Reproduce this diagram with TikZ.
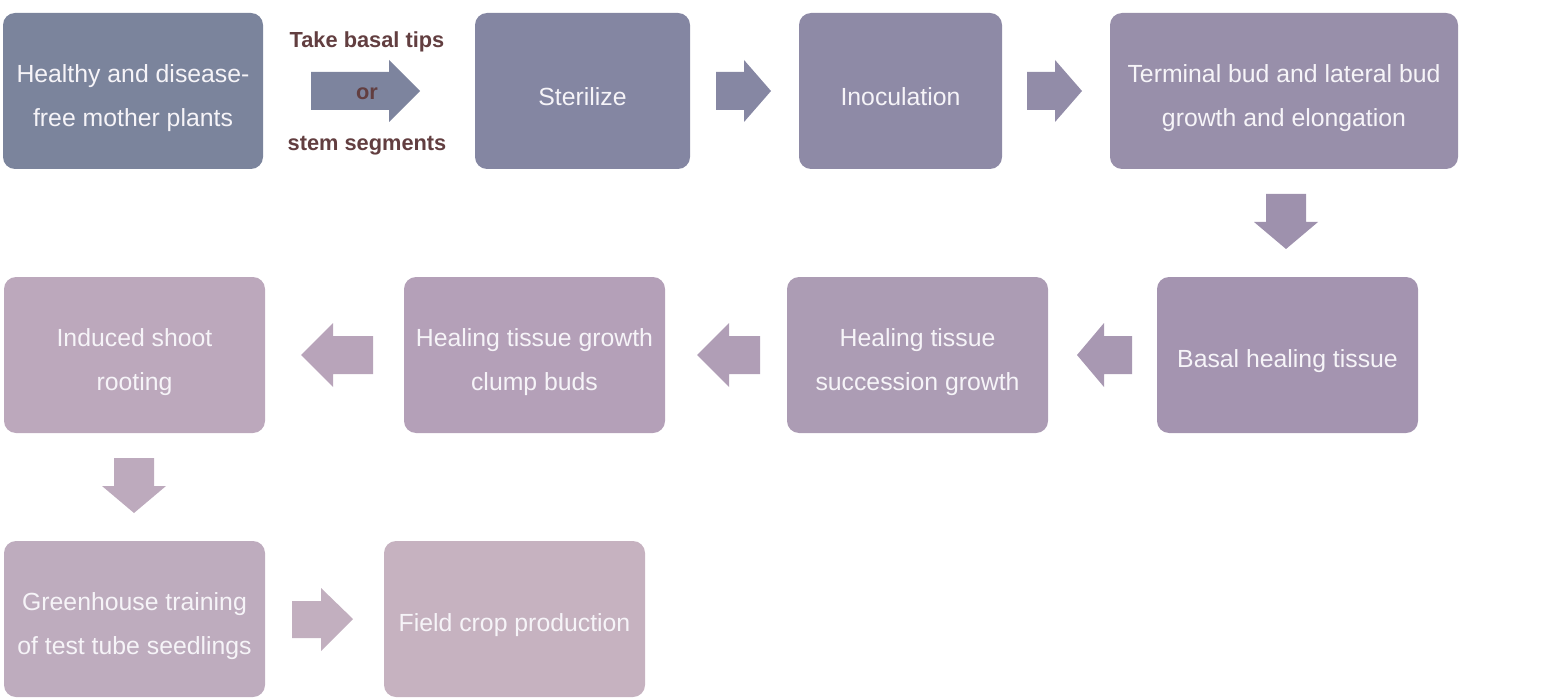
\documentclass[tikz,border=0pt]{standalone}
\usepackage{fontspec}
\setmainfont{Liberation Sans}
\definecolor{c1}{RGB}{123,132,156}
\definecolor{c2}{RGB}{132,134,162}
\definecolor{c3}{RGB}{142,138,166}
\definecolor{c4}{RGB}{152,143,170}
\definecolor{c5}{RGB}{164,148,176}
\definecolor{c6}{RGB}{172,156,180}
\definecolor{c7}{RGB}{180,160,184}
\definecolor{c8}{RGB}{188,168,188}
\definecolor{c9}{RGB}{190,172,190}
\definecolor{c10}{RGB}{198,178,192}
\definecolor{a1}{RGB}{125,132,158}
\definecolor{a2}{RGB}{134,135,163}
\definecolor{a3}{RGB}{146,140,168}
\definecolor{a4}{RGB}{158,145,173}
\definecolor{a5}{RGB}{168,152,178}
\definecolor{a6}{RGB}{176,158,182}
\definecolor{a7}{RGB}{184,164,186}
\definecolor{a8}{RGB}{189,170,189}
\definecolor{a9}{RGB}{194,175,191}
\definecolor{lbl}{RGB}{98,62,64}
\definecolor{txtc}{RGB}{246,244,248}
\tikzset{
  box/.style={rectangle, rounded corners=6pt, draw=none, inner sep=0pt, minimum width=#1},
  box/.default=130pt,
  boxtxt/.style={text=txtc, align=center, font=\fontsize{12.4}{22}\selectfont},
  steplbl/.style={text=lbl, font=\fontsize{10.9}{13}\selectfont\bfseries},
}
\begin{document}
\begin{tikzpicture}[x=0.5pt,y=-0.5pt]
\useasboundingbox (0,0) rectangle (1546,700);
% boxes
\node[box=130pt, minimum height=78pt, fill=c1] (b1) at (133,91) {};
\node[box=107.5pt, minimum height=78pt, fill=c2] (b2) at (582.5,91) {};
\node[box=101.5pt, minimum height=78pt, fill=c3] (b3) at (900.5,91) {};
\node[box=174pt, minimum height=78pt, fill=c4] (b4) at (1284,91) {};
\node[box=130.5pt, minimum height=78pt, fill=c5] (b5) at (1287.5,355) {};
\node[box=130.5pt, minimum height=78pt, fill=c6] (b6) at (917.5,355) {};
\node[box=130.5pt, minimum height=78pt, fill=c7] (b7) at (534.5,355) {};
\node[box=130.5pt, minimum height=78pt, fill=c8] (b8) at (134.5,355) {};
\node[box=130.5pt, minimum height=78pt, fill=c9] (b9) at (134.5,619) {};
\node[box=130.5pt, minimum height=78pt, fill=c10] (b10) at (514.5,619) {};
% texts
\node[boxtxt] (t1) at ([yshift=-3.5pt]b1.center) {Healthy and disease-\\free mother plants};
\node[boxtxt] (t2) at ([yshift=-3pt]b2.center) {Sterilize};
\node[boxtxt] (t3) at ([yshift=-3pt]b3.center) {Inoculation};
\node[boxtxt] (t4) at ([yshift=-3.5pt]b4.center) {Terminal bud and lateral bud\\growth and elongation};
\node[boxtxt] (t5) at ([yshift=-3pt]b5.center) {Basal healing tissue};
\node[boxtxt] (t6) at ([yshift=-3.5pt]b6.center) {Healing tissue\\succession growth};
\node[boxtxt] (t7) at ([yshift=-3.5pt]b7.center) {Healing tissue growth\\clump buds};
\node[boxtxt] (t8) at ([yshift=-3.5pt]b8.center) {Induced shoot\\rooting};
\node[boxtxt] (t9) at ([yshift=-3.5pt]b9.center) {Greenhouse training\\of test tube seedlings};
\node[boxtxt] (t10) at ([yshift=-3pt]b10.center) {Field crop production};
% block arrows
\fill[a1] (311,72) -- (389,72) -- (389,60) -- (420,91) -- (389,122) -- (389,110) -- (311,110) -- cycle;
\fill[a2] (716,72) -- (744,72) -- (744,60) -- (771,91) -- (744,122) -- (744,110) -- (716,110) -- cycle;
\fill[a3] (1027,72) -- (1055,72) -- (1055,60) -- (1082,91) -- (1055,122) -- (1055,110) -- (1027,110) -- cycle;
\fill[a4] (1266,194) -- (1306,194) -- (1306,222) -- (1318,222) -- (1286,249) -- (1254,222) -- (1266,222) -- cycle;
\fill[a5] (1132,336) -- (1104,336) -- (1104,323) -- (1077,355) -- (1104,387) -- (1104,374) -- (1132,374) -- cycle;
\fill[a6] (760,336) -- (729,336) -- (729,323) -- (697,355) -- (729,387) -- (729,374) -- (760,374) -- cycle;
\fill[a7] (373,336) -- (333,336) -- (333,323) -- (301,355) -- (333,387) -- (333,374) -- (373,374) -- cycle;
\fill[a8] (114,458) -- (154,458) -- (154,486) -- (166,486) -- (134,513) -- (102,486) -- (114,486) -- cycle;
\fill[a9] (292,601) -- (321,601) -- (321,588) -- (353,619) -- (321,651) -- (321,638) -- (292,638) -- cycle;
% step labels
\node[steplbl] (l1) at (367,42) {Take basal tips};
\node[steplbl] (l2) at (367,94) {or};
\node[steplbl] (l3) at (367,146) {stem segments};
\end{tikzpicture}
\end{document}
